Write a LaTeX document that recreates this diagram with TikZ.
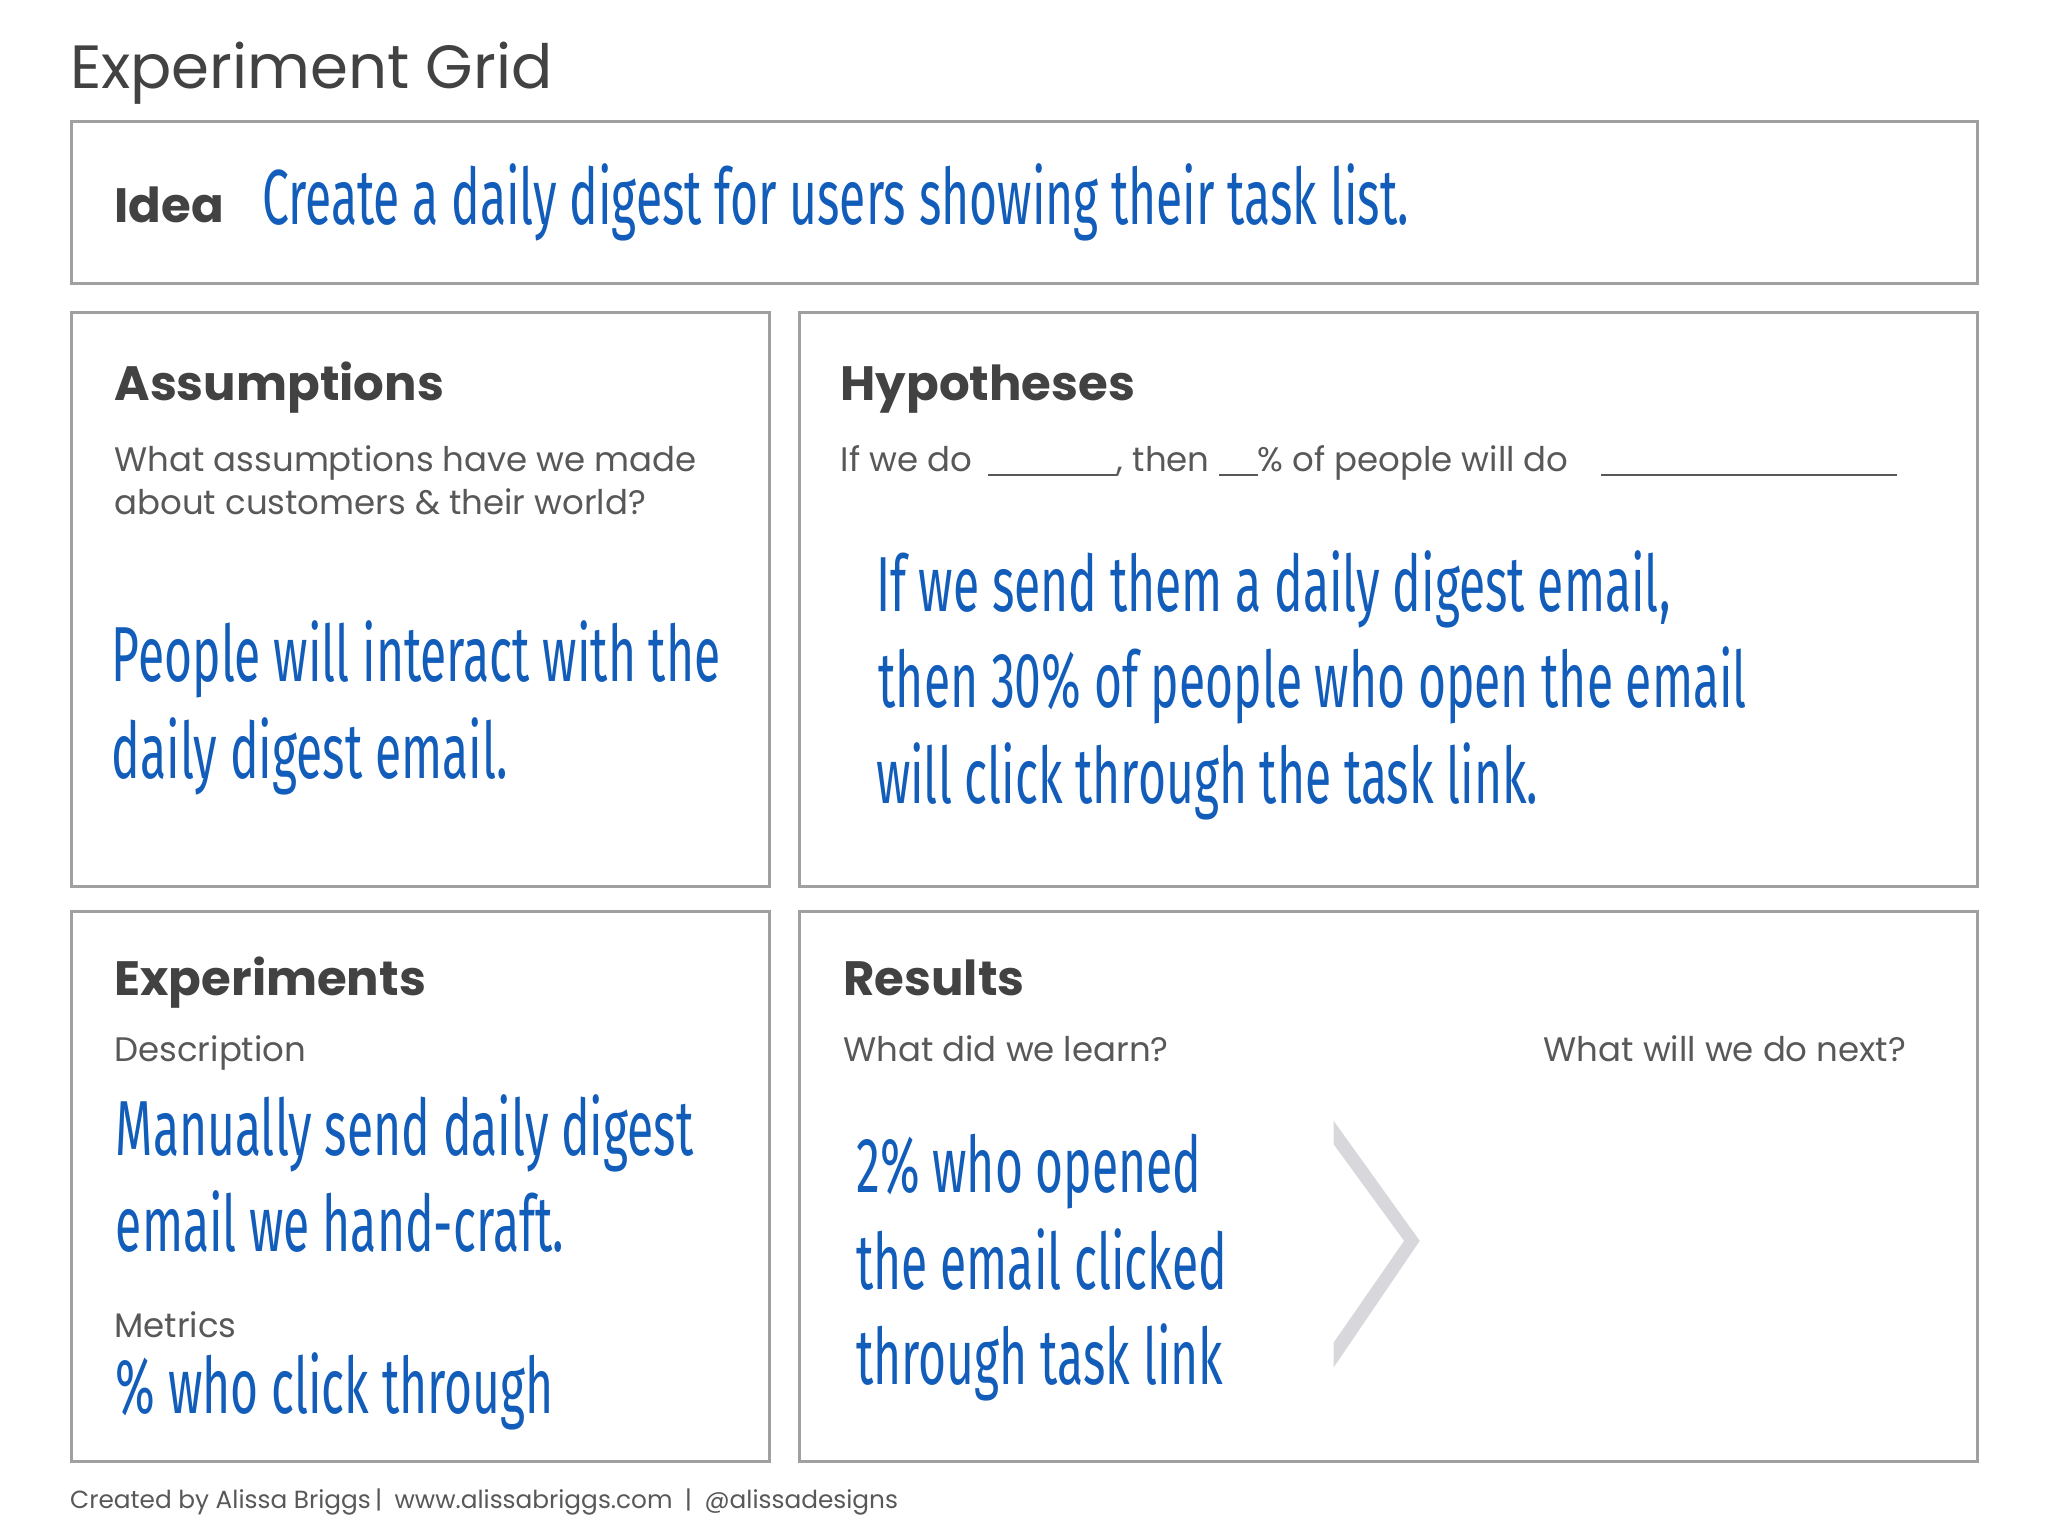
\documentclass[tikz,border=0pt]{standalone}
\usepackage{fontspec}
\setmainfont{Poppins}
\newfontfamily\hand[FakeStretch=0.615]{Fira Sans}
\usetikzlibrary{positioning}

\definecolor{inkblue}{RGB}{18,92,186}
\definecolor{labelgray}{RGB}{66,66,66}
\definecolor{promptgray}{RGB}{88,88,88}
\definecolor{framegray}{RGB}{160,160,160}
\definecolor{chevgray}{RGB}{216,216,220}

\newcommand{\blank}[1]{\rule[-0.12em]{#1}{0.06em}}

\begin{document}
\begin{tikzpicture}[x=0.1mm,y=-0.1mm,
  panel/.style={draw=framegray,line width=0.7pt},
  title/.style={anchor=base west,inner sep=0pt,text=labelgray,font=\fontsize{13.3}{16}\selectfont},
  heading/.style={anchor=base west,inner sep=0pt,text=labelgray,font=\bfseries\fontsize{10.5}{12.5}\selectfont},
  prompt/.style={anchor=base west,inner sep=0pt,text=promptgray,font=\fontsize{7.4}{9}\selectfont},
  ink/.style={anchor=base west,inner sep=0pt,text=inkblue,font=\hand\fontsize{17}{20}\selectfont},
  credit/.style={anchor=base west,inner sep=0pt,text=promptgray,font=\fontsize{5.4}{6.5}\selectfont}]

  \useasboundingbox (0,0) rectangle (1568,1176);

  \node[title] (title) at (53,68) {Experiment Grid};

  % idea
  \draw[panel] (55,93) rectangle (1514,217);
  \node[heading] (idea)     at (87,170)  {Idea};
  \node[ink]     (ideatext) at (200,172) {Create a daily digest for users showing their task list.};

  % assumptions
  \draw[panel] (55,239) rectangle (589,679);
  \node[heading] (assum)   at (87,307) {Assumptions};
  \node[prompt]  (assumq1) at (87,361) {What assumptions have we made};
  \node[prompt]  (assumq2) at (87,394) {about customers \& their world?};
  \node[ink]     (assuma1) at (85,522) {People will interact with the};
  \node[ink]     (assuma2) at (85,596) {daily digest email.};

  % hypotheses
  \draw[panel] (612,239) rectangle (1514,679);
  \node[heading] (hypo)   at (643,307) {Hypotheses};
  \node[prompt]  (hypoq)  at (643,361)
    {If we do\hspace{0.2em} \blank{3.8em}, then \blank{1.15em}\% of people will do\hspace{0.7em} \blank{8.7em}};
  \node[ink]     (hypoa1) at (670,468) {If we send them a daily digest email,};
  \node[ink]     (hypoa2) at (672,542) {then 30\% of people who open the email};
  \node[ink]     (hypoa3) at (670,615) {will click through the task link.};

  % experiments
  \draw[panel] (55,698) rectangle (589,1119);
  \node[heading] (expt)   at (87,762)  {Experiments};
  \node[prompt]  (exptd)  at (87,813)  {Description};
  \node[ink]     (expta1) at (88,885)  {Manually send daily digest};
  \node[ink]     (expta2) at (88,958)  {email we hand-craft.};
  \node[prompt]  (exptm)  at (87,1024) {Metrics};
  \node[ink]     (expta3) at (88,1082) {\% who click through};

  % results
  \draw[panel] (612,698) rectangle (1514,1119);
  \node[heading] (res)    at (645,762) {Results};
  \node[prompt]  (resq1)  at (645,813) {What did we learn?};
  \node[prompt, anchor=base east] (resq2) at (1460,813) {What will we do next?};
  \node[ink]     (resa1)  at (655,913)  {2\% who opened};
  \node[ink]     (resa2)  at (655,987)  {the email clicked};
  \node[ink]     (resa3)  at (655,1060) {through task link};
  \fill[chevgray] (1021,858) -- (1087,950) -- (1021,1047) -- (1021,1028)
                  -- (1075,950) -- (1021,876) -- cycle;

  \node[credit] (footer) at (53,1155)
    {Created by Alissa Briggs\,|\enspace www.alissabriggs.com\enspace|\enspace @alissadesigns};
\end{tikzpicture}
\end{document}
